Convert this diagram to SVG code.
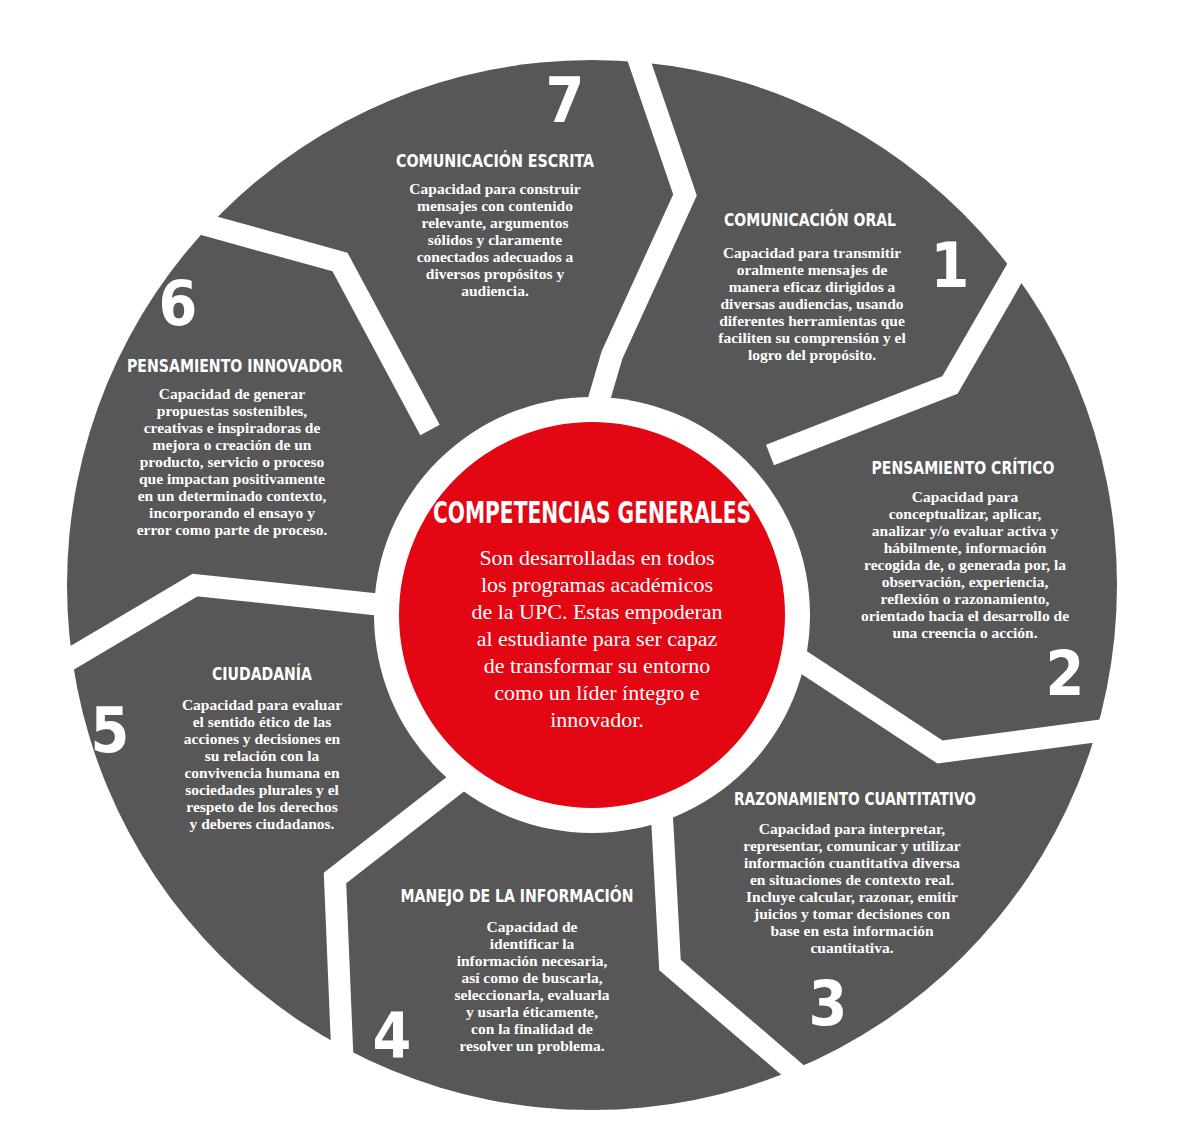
<svg xmlns="http://www.w3.org/2000/svg" width="1200" height="1146" viewBox="0 0 1200 1146">
<style>
.t{font-family:"DejaVu Sans Condensed","DejaVu Sans",sans-serif;font-weight:bold;font-size:17px;fill:#fff;text-anchor:middle}
.b{font-family:"Liberation Serif",serif;font-weight:bold;font-size:15.5px;fill:#fff;text-anchor:middle}
.n{font-family:"DejaVu Sans Condensed","DejaVu Sans",sans-serif;font-weight:bold;font-size:62px;fill:#fff;text-anchor:middle}
.gap{fill:none;stroke:#fff;stroke-width:22;stroke-linejoin:miter;stroke-miterlimit:10}
</style>
<rect width="1200" height="1146" fill="#fff"/>
<circle cx="592" cy="585" r="525" fill="#575757"/>
<g id="connectors">
<polyline class="gap" points="632,40 685,195 612,355 590,430"/>
<polyline class="gap" points="1025,255 950,385 770,455"/>
<polyline class="gap" points="1120,728 940,752 785,650"/>
<polyline class="gap" points="810,1085 670,965 660,780"/>
<polyline class="gap" points="480,765 335,878 345,1120"/>
<polyline class="gap" points="60,665 195,585 410,608"/>
<polyline class="gap" points="170,215 340,262 430,430"/>
</g>
<circle cx="592" cy="615" r="218" fill="#fff"/>
<g id="center">
<circle cx="592" cy="615" r="193" fill="#e30613"/>
<text class="t" x="592" y="523" style="font-size:30px" textLength="318" lengthAdjust="spacingAndGlyphs">COMPETENCIAS GENERALES</text>
<g style="font-family:'Liberation Serif',serif;font-size:22px;fill:#fff;text-anchor:middle">
<text x="597" y="565">Son desarrolladas en todos</text>
<text x="597" y="592">los programas académicos</text>
<text x="597" y="619">de la UPC. Estas empoderan</text>
<text x="597" y="646">al estudiante para ser capaz</text>
<text x="597" y="673">de transformar su entorno</text>
<text x="597" y="700">como un líder íntegro e</text>
<text x="597" y="727">innovador.</text>
</g>
</g>
<g id="n7">
<text class="n" x="565" y="122">7</text>
<text class="t" x="495" y="167" textLength="198" lengthAdjust="spacingAndGlyphs">COMUNICACIÓN ESCRITA</text>
<text class="b" x="495" y="194">Capacidad para construir</text>
<text class="b" x="495" y="211">mensajes con contenido</text>
<text class="b" x="495" y="228">relevante, argumentos</text>
<text class="b" x="495" y="245">sólidos y claramente</text>
<text class="b" x="495" y="262">conectados adecuados a</text>
<text class="b" x="495" y="279">diversos propósitos y</text>
<text class="b" x="495" y="296">audiencia.</text>
</g>
<g id="n1">
<text class="n" x="950" y="287">1</text>
<text class="t" x="810" y="226" textLength="172" lengthAdjust="spacingAndGlyphs">COMUNICACIÓN ORAL</text>
<text class="b" x="812" y="258">Capacidad para transmitir</text>
<text class="b" x="812" y="275">oralmente mensajes de</text>
<text class="b" x="812" y="292">manera eficaz dirigidos a</text>
<text class="b" x="812" y="309">diversas audiencias, usando</text>
<text class="b" x="812" y="326">diferentes herramientas que</text>
<text class="b" x="812" y="343">faciliten su comprensión y el</text>
<text class="b" x="812" y="360">logro del propósito.</text>
</g>
<g id="n2">
<text class="n" x="1065" y="695">2</text>
<text class="t" x="963" y="474" textLength="183" lengthAdjust="spacingAndGlyphs">PENSAMIENTO CRÍTICO</text>
<text class="b" x="965" y="502">Capacidad para</text>
<text class="b" x="965" y="519">conceptualizar, aplicar,</text>
<text class="b" x="965" y="536">analizar y/o evaluar activa y</text>
<text class="b" x="965" y="553">hábilmente, información</text>
<text class="b" x="965" y="570">recogida de, o generada por, la</text>
<text class="b" x="965" y="587">observación, experiencia,</text>
<text class="b" x="965" y="604">reflexión o razonamiento,</text>
<text class="b" x="965" y="621">orientado hacia el desarrollo de</text>
<text class="b" x="965" y="638">una creencia o acción.</text>
</g>
<g id="n3">
<text class="n" x="828" y="1025">3</text>
<text class="t" x="855" y="805" textLength="242" lengthAdjust="spacingAndGlyphs">RAZONAMIENTO CUANTITATIVO</text>
<text class="b" x="852" y="834">Capacidad para  interpretar,</text>
<text class="b" x="852" y="851">representar, comunicar y utilizar</text>
<text class="b" x="852" y="868">información cuantitativa diversa</text>
<text class="b" x="852" y="885">en situaciones de contexto real.</text>
<text class="b" x="852" y="902">Incluye  calcular, razonar, emitir</text>
<text class="b" x="852" y="919">juicios y tomar decisiones con</text>
<text class="b" x="852" y="936">base en esta información</text>
<text class="b" x="852" y="953">cuantitativa.</text>
</g>
<g id="n4">
<text class="n" x="392" y="1057">4</text>
<text class="t" x="517" y="902" textLength="233" lengthAdjust="spacingAndGlyphs">MANEJO DE LA INFORMACIÓN</text>
<text class="b" x="532" y="932">Capacidad de</text>
<text class="b" x="532" y="949">identificar la</text>
<text class="b" x="532" y="966">información necesaria,</text>
<text class="b" x="532" y="983">así como de buscarla,</text>
<text class="b" x="532" y="1000">seleccionarla, evaluarla</text>
<text class="b" x="532" y="1017">y usarla éticamente,</text>
<text class="b" x="532" y="1034">con la finalidad de</text>
<text class="b" x="532" y="1051">resolver un problema.</text>
</g>
<g id="n5">
<text class="n" x="110" y="752">5</text>
<text class="t" x="262" y="680" textLength="100" lengthAdjust="spacingAndGlyphs">CIUDADANÍA</text>
<text class="b" x="262" y="710">Capacidad para evaluar</text>
<text class="b" x="262" y="727">el sentido ético de las</text>
<text class="b" x="262" y="744">acciones y decisiones en</text>
<text class="b" x="262" y="761">su relación con la</text>
<text class="b" x="262" y="778">convivencia humana en</text>
<text class="b" x="262" y="795">sociedades plurales y el</text>
<text class="b" x="262" y="812">respeto de los derechos</text>
<text class="b" x="262" y="829">y deberes ciudadanos.</text>
</g>
<g id="n6">
<text class="n" x="178" y="325">6</text>
<text class="t" x="235" y="372" textLength="216" lengthAdjust="spacingAndGlyphs">PENSAMIENTO INNOVADOR</text>
<text class="b" x="232" y="399">Capacidad de generar</text>
<text class="b" x="232" y="416">propuestas sostenibles,</text>
<text class="b" x="232" y="433">creativas e inspiradoras de</text>
<text class="b" x="232" y="450">mejora o creación de un</text>
<text class="b" x="232" y="467">producto, servicio o proceso</text>
<text class="b" x="232" y="484">que impactan positivamente</text>
<text class="b" x="232" y="501">en un determinado contexto,</text>
<text class="b" x="232" y="518">incorporando el ensayo y</text>
<text class="b" x="232" y="535">error como parte de proceso.</text>
</g>
</svg>
